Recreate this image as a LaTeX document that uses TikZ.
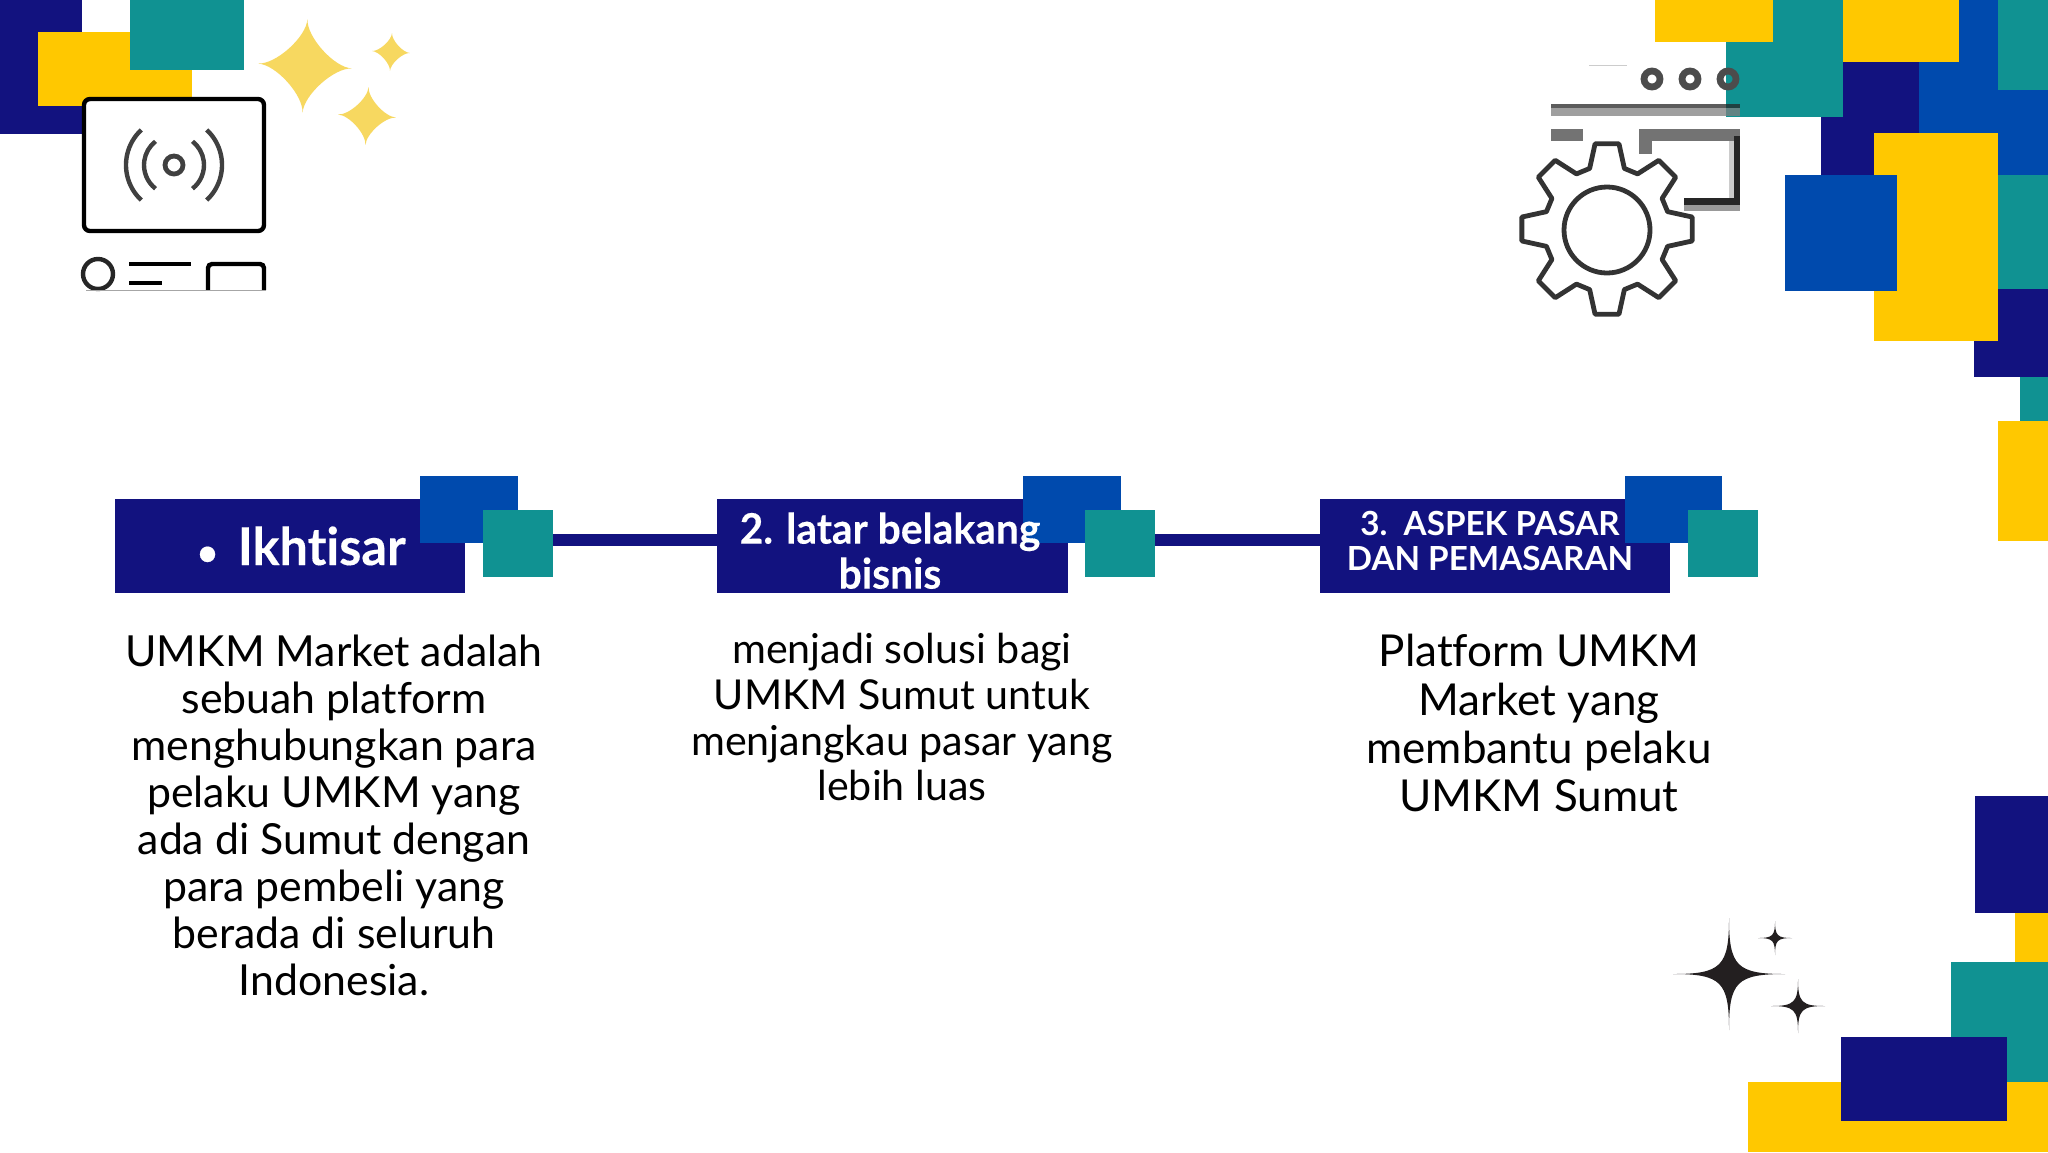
\documentclass[tikz,border=0pt]{standalone}
\usepackage{fontspec}
\setmainfont{Lato}[Ligatures=NoCommon]
\newfontfamily\headfont{Lato Bold}[FakeStretch=.97,Ligatures=NoCommon,FakeBold=.25]
\definecolor{navy}{HTML}{12127F}
\definecolor{sun}{HTML}{FFC800}
\definecolor{sea}{HTML}{109292}
\definecolor{royal}{HTML}{004AAD}
\definecolor{star}{HTML}{F7D860}
\definecolor{ink}{HTML}{231F20}
\tikzset{
  panelbox/.style={rectangle,inner sep=0pt,outer sep=0pt,draw=none},
  link/.style={draw=navy,line width=6pt},
  body/.style={align=center,anchor=north,text=black,inner sep=0pt},
  head/.style={align=center,text=white,inner sep=0pt},
  iconline/.style={draw=black,line width=2.2pt},
  gearline/.style={draw=black!80,line width=2.4pt},
}
\newcommand\panel[6]{\node[panelbox,fill=#6,minimum width={(#4-#2)*0.5pt},minimum height={(#5-#3)*0.5pt}] (#1) at ({(#2+#4)/2},{(#3+#5)/2}) {};}
\newcommand\block[5]{\fill[#5] (#1,#2) rectangle (#3,#4);}
\newcommand\sparkle[6]{\fill[#1,shift={(#2,#3)},rotate=#5] (0,-#4) .. controls (0,-#4*#6) and (#4*#6,0) .. (#4,0) .. controls (#4*#6,0) and (0,#4*#6) .. (0,#4) .. controls (0,#4*#6) and (-#4*#6,0) .. (-#4,0) .. controls (-#4*#6,0) and (0,-#4*#6) .. cycle;}
\begin{document}
\begin{tikzpicture}[x=0.5pt,y=-0.5pt]
\useasboundingbox (0,0) rectangle (2048,1152);
\fill[white] (0,0) rectangle (2048,1152);
% top left
\block{0}{0}{82}{134}{navy}
\block{38}{32}{192}{106}{sun}
\block{130}{0}{244}{70}{sea}
\sparkle{star}{305}{66}{47}{-3}{.62}
\sparkle{star}{391}{52}{19}{-3}{.62}
\sparkle{star}{367}{116}{29}{-3}{.62}
% signal icon
\draw[iconline,fill=white,rounded corners=3pt] (84,99) rectangle (264,231);
\draw[draw=black!75,line width=2.4pt] (174,165) circle (9);
\draw[draw=black!75,line width=2.2pt] (174,165) ++(128:30) arc (128:232:30);
\draw[draw=black!75,line width=2.2pt] (174,165) ++(52:30) arc (52:-52:30);
\draw[draw=black!75,line width=2.2pt] (174,165) ++(133:48) arc (133:227:48);
\draw[draw=black!75,line width=2.2pt] (174,165) ++(47:48) arc (47:-47:48);
\draw[draw=black!85,line width=2.2pt] (98,274) circle (15);
\draw[draw=black,line width=2pt] (129,264) -- (191,264) (129,283) -- (162,283);
\draw[draw=black,line width=2.2pt,rounded corners=2pt] (208,290) -- (208,264) -- (264,264) -- (264,290);
\draw[draw=black!35,line width=.5pt] (86,290.5) -- (266,290.5);
% top right
\block{1821}{61}{1919}{175}{navy}
\block{1726}{0}{1843}{117}{sea}
\block{1655}{0}{1773}{42}{sun}
\block{1919}{0}{1998}{175}{royal}
\block{1998}{90}{2048}{175}{royal}
\block{1843}{0}{1959}{61.5}{sun}
\block{1998}{0}{2048}{90}{sea}
\block{1998}{175}{2048}{289}{sea}
\block{1974}{289}{2048}{377}{navy}
\block{1874}{133}{1998}{341}{sun}
\block{1785}{175}{1897}{291}{royal}
\block{2020}{377}{2048}{421}{sea}
\block{1998}{421}{2048}{541}{sun}
% gear icon
\draw[gearline,line join=round,shift={(1607,229)}] (-16:63) \foreach \a in {0,45,...,315} { -- (\a-16:63) -- (\a-8:86) -- (\a+8:86) -- (\a+16:63)} -- cycle;
\draw[gearline] (1607,230) circle (43);
\foreach \px in {1652,1690,1728} \draw[draw=black!70,line width=3.4pt] (\px,79) circle (8);
\fill[black!50,opacity=.75] (1551,108) rectangle (1740,116);
\fill[black!85,opacity=.75] (1551,104) rectangle (1740,108);
\draw[draw=black!20,line width=.5pt] (1589,65.5) -- (1627,65.5);
\fill[black!55] (1551,129) rectangle (1583,141);
\fill[black!55] (1639,129) rectangle (1740,141);
\fill[black!55] (1639,129) rectangle (1652,154);
\fill[black!20] (1729,141) rectangle (1734,200);
\fill[black!85] (1734,136) rectangle (1740,205);
\fill[black!85] (1684,198) rectangle (1740,205);
\fill[black!40] (1684,205) rectangle (1740,211);
% bottom right
\block{1975}{796}{2048}{913}{navy}
\block{2015}{913}{2048}{962}{sun}
\block{1951}{962}{2048}{1082}{sea}
\block{1748}{1082}{2048}{1152}{sun}
\block{1841}{1037}{2007}{1121}{navy}
\sparkle{ink}{1729}{974}{56}{0}{.14}
\sparkle{ink}{1775}{938}{17}{0}{.14}
\sparkle{ink}{1798}{1006}{27}{0}{.14}
% headers and connectors
\coordinate (level) at (0,540);
\panel{boxa}{115}{499}{465}{593}{navy}
\panel{blua}{420}{476}{518}{543}{royal}
\panel{teala}{483}{510}{553}{577}{sea}
\panel{boxb}{717}{499}{1068}{593}{navy}
\panel{blub}{1023}{476}{1121}{543}{royal}
\panel{tealb}{1085}{510}{1155}{577}{sea}
\panel{boxc}{1320}{499}{1670}{593}{navy}
\panel{bluc}{1625}{476}{1722}{543}{royal}
\panel{tealc}{1688}{510}{1758}{577}{sea}
\draw[link] (teala.east |- level) -- (boxb.west |- level);
\draw[link] (tealb.east |- level) -- (boxc.west |- level);
\node[head,anchor=base west,font=\headfont\fontsize{26}{30}\selectfont] (labela) at (197,565) {{\fontsize{18}{18}\selectfont•}\hspace{.39em}Ikhtisar};
\node[head,anchor=north,font=\headfont\fontsize{21}{22.5}\selectfont] (labelb) at (890,512) {2. latar belakang\\bisnis};
\node[head,anchor=north,font=\fontsize{16.6}{17.5}\selectfont\bfseries] (labelc) at (1490,511) {3.\ \ ASPEK PASAR\\DAN PEMASARAN};
\node[body,font=\fontsize{21.4}{23.5}\selectfont] (texta) at (334,635) {UMKM Market adalah\\sebuah platform\\menghubungkan para\\pelaku UMKM yang\\ada di Sumut dengan\\para pembeli yang\\berada di seluruh\\Indonesia.};
\node[body,font=\fontsize{20.6}{22.85}\selectfont] (textb) at (902,633) {menjadi solusi bagi\\UMKM Sumut untuk\\menjangkau pasar yang\\lebih luas};
\node[body,font=\fontsize{22}{24.15}\selectfont] (textc) at (1539,634) {Platform UMKM\\Market yang\\membantu pelaku\\UMKM Sumut};
\end{tikzpicture}
\end{document}
